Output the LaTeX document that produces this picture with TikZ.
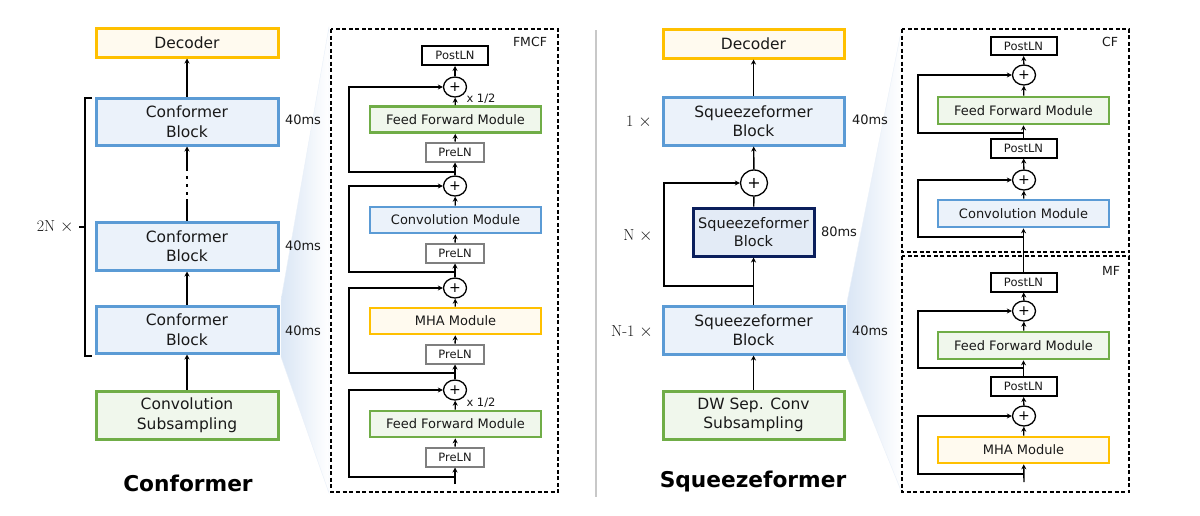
\documentclass[tikz,border=0pt]{standalone}
\usepackage{fontspec}
\setsansfont{DejaVu Sans}
\usetikzlibrary{arrows.meta,shapes.geometric,calc}
\definecolor{bblue}{HTML}{5B9BD5}
\definecolor{fblue}{HTML}{EBF2FA}
\definecolor{bgreen}{HTML}{70AD47}
\definecolor{fgreen}{HTML}{F0F7EC}
\definecolor{borange}{HTML}{FFC000}
\definecolor{forange}{HTML}{FFFAEF}
\definecolor{bnavy}{HTML}{0B1F5C}
\definecolor{fnavy}{HTML}{E3EBF6}
\definecolor{bgray}{HTML}{7F7F7F}
\definecolor{sepgray}{HTML}{C8C8C8}
\definecolor{shblue}{HTML}{DAE6F5}
\begin{document}
\begin{tikzpicture}[x=1pt,y=-1pt,font=\sffamily,
  big/.style={draw,line width=3pt,minimum width=182pt,minimum height=47pt,inner sep=0pt,align=center,font=\sffamily\fontsize{15.5}{19.5}\selectfont,text=black!90},
  bluebig/.style={big,draw=bblue,fill=fblue},
  greenbig/.style={big,draw=bgreen,fill=fgreen},
  orangebig/.style={big,draw=borange,fill=forange,minimum height=29pt},
  mod/.style={draw,line width=2.6pt,minimum width=171pt,minimum height=26pt,inner sep=0pt,font=\sffamily\fontsize{13}{15}\selectfont,text=black!90},
  greenmod/.style={mod,draw=bgreen,fill=fgreen},
  bluemod/.style={mod,draw=bblue,fill=fblue},
  orangemod/.style={mod,draw=borange,fill=forange},
  ln/.style={draw,line width=2pt,minimum height=19pt,inner sep=0pt,fill=white,font=\sffamily\fontsize{11.5}{13}\selectfont,text=black!90},
  preln/.style={ln,draw=bgray,minimum width=58pt},
  postln/.style={ln,draw=black,minimum width=66pt},
  addc/.style={ellipse,draw,line width=1.3pt,minimum width=23pt,minimum height=20pt,inner sep=0pt,fill=white,font=\sffamily\fontsize{14}{14}\selectfont},
  arr/.style={line width=1.4pt,-{Stealth[length=5pt,width=5pt]}},
  ln1/.style={line width=1.4pt},
  dbox/.style={draw,line width=1.3pt,dash pattern=on 4pt off 2.5pt},
  ms/.style={font=\sffamily\fontsize{13}{15}\selectfont,text=black!90},
  rep/.style={font=\rmfamily\fontsize{16}{18}\selectfont,text=black!90},
  boxlab/.style={font=\sffamily\fontsize{12.5}{14}\selectfont,text=black!90},
  half/.style={font=\sffamily\fontsize{11.5}{13}\selectfont,text=black!90},
  title/.style={font=\sffamily\bfseries\fontsize{21.7}{24}\selectfont}]
\useasboundingbox (0,0) rectangle (1200,515);
\fill[white] (0,0) rectangle (1200,515);

% zoom shadings
\shade[left color=shblue,right color=white,draw=shblue!60,line width=0.4pt]
  (281,300) -- (329,27) -- (329,493) -- (281,357) -- cycle;
\shade[left color=shblue,right color=white,draw=shblue!60,line width=0.4pt]
  (847,302) -- (902,27) -- (902,493) -- (847,357) -- cycle;

% ================= Conformer =================
\node[orangebig] (dec1) at (187,42.5) {Decoder};
\node[bluebig] (cb3) at (187,121.5) {Conformer\\Block};
\node[bluebig,minimum height=48pt] (cb2) at (187,246) {Conformer\\Block};
\node[bluebig] (cb1) at (187,329.5) {Conformer\\Block};
\node[greenbig,minimum height=48pt] (cs) at (187,415) {Convolution\\Subsampling};
\node[title] (t1) at (188,483) {Conformer};

\draw[arr] (cs) -- (cb1);
\draw[arr] (cb1) -- (cb2);
\draw[arr,dash pattern=on 22pt off 4pt on 3pt off 5pt on 3pt off 5pt on 3pt off 5pt on 60pt] (cb2) -- (cb3);
\draw[arr] (cb3) -- (dec1);

\node[ms] (m1) at (303,120) {40ms};
\node[ms] (m2) at (303,246) {40ms};
\node[ms] (m3) at (303,331) {40ms};

\coordinate (brt) at (92,98);
\coordinate (brb) at (92,356);
\coordinate (brm) at (85,227);
\draw[line width=1.3pt] (brt) -- (85,98) -- (brb -| brm) -- (brb);
\draw[line width=1.3pt] (brm) -- (79,227);
\node[rep,anchor=east] (r2n) at (77,227) {2N $\times$};

% FMCF box
\draw[dbox] (331,29) rectangle (558,492);
\node[boxlab] (lfmcf) at (530,42) {FMCF};

\node[postln] (fpost) at (455,55.5) {PostLN};
\node[addc] (fc1) at (455,87) {+};
\node[greenmod] (fffm1) at (455.5,119.5) {Feed Forward Module};
\node[preln] (fpre1) at (455,152) {PreLN};
\node[addc] (fc2) at (455,186) {+};
\node[bluemod] (fconv) at (455.5,220) {Convolution Module};
\node[preln] (fpre2) at (455,253) {PreLN};
\node[addc] (fc3) at (455,288) {+};
\node[orangemod] (fmha) at (455.5,321) {MHA Module};
\node[preln] (fpre3) at (455,354) {PreLN};
\node[addc] (fc4) at (455,390) {+};
\node[greenmod] (fffm2) at (455.5,424) {Feed Forward Module};
\node[preln] (fpre4) at (455,457) {PreLN};
\coordinate (fin) at (455,484);
\node[half,anchor=west] (h1) at (463,99) {x 1/2};
\node[half,anchor=west] (h2) at (463,403) {x 1/2};

\draw[arr] (fc1) -- (fpost);
\draw[arr] (fffm1) -- (fc1);
\draw[arr] (fpre1) -- (fffm1);
\draw[arr] (fc2) -- (fpre1);
\draw[arr] (fconv) -- (fc2);
\draw[arr] (fpre2) -- (fconv);
\draw[arr] (fc3) -- (fpre2);
\draw[arr] (fmha) -- (fc3);
\draw[arr] (fpre3) -- (fmha);
\draw[arr] (fc4) -- (fpre3);
\draw[arr] (fffm2) -- (fc4);
\draw[arr] (fpre4) -- (fffm2);
\draw[arr] (fin) -- (fpre4);

\coordinate (fb1) at (455,172);
\coordinate (fb2) at (455,272);
\coordinate (fb3) at (455,373);
\coordinate (fb4) at (455,477);
\draw[arr] (fb1) -- (349,172) |- (fc1);
\draw[arr] (fb2) -- (349,272) |- (fc2);
\draw[arr] (fb3) -- (349,373) |- (fc3);
\draw[arr] (fb4) -- (349,477) |- (fc4);

% separator
\draw[sepgray,line width=1.5pt] (596,30) -- (596,497);

% ================= Squeezeformer =================
\node[orangebig,minimum width=181pt] (dec2) at (753.5,43.5) {Decoder};
\node[bluebig,minimum width=181pt,minimum height=48pt] (sb3) at (753.5,121) {Squeezeformer\\Block};
\node[addc,minimum width=27pt,minimum height=26pt,font=\sffamily\fontsize{16}{16}\selectfont] (sc) at (754,183) {+};
\node[big,draw=bnavy,fill=fnavy,minimum width=121pt,minimum height=48pt,font=\sffamily\fontsize{14.5}{18.5}\selectfont] (sb2) at (753.5,232) {Squeezeformer\\Block};
\node[bluebig,minimum width=181pt,minimum height=48pt] (sb1) at (753.5,330) {Squeezeformer\\Block};
\node[greenbig,minimum width=181pt,minimum height=48pt] (dw) at (753.5,415) {DW Sep. Conv\\Subsampling};
\node[title] (t2) at (753,482) {Squeezeformer};

\draw[arr] (dw) -- (sb1);
\draw[arr] (sb1) -- (sb2);
\draw[ln1] (sb2) -- (sc);
\draw[arr] (sc) -- (sb3);
\draw[arr] (sb3) -- (dec2);
\coordinate (sbr) at (753.5,286);
\draw[arr] (sbr) -- (664,286) |- (sc);

\node[rep] (r1) at (639,122) {1 $\times$};
\node[rep] (r2) at (638,236) {N $\times$};
\node[rep] (r3) at (632,332) {N-1 $\times$};
\node[ms] (sm1) at (870,120) {40ms};
\node[ms] (sm2) at (839,232) {80ms};
\node[ms] (sm3) at (870,331) {40ms};

% CF box
\draw[dbox] (902,29) rectangle (1129,252);
\node[boxlab] (lcf) at (1110,42) {CF};
\node[postln,minimum height=18pt] (cpost1) at (1023.5,46) {PostLN};
\node[addc] (cc1) at (1024,75) {+};
\node[greenmod,minimum height=27pt] (cffm) at (1023.5,110.5) {Feed Forward Module};
\node[postln] (cpost2) at (1023.5,148) {PostLN};
\node[addc] (cc2) at (1024,180) {+};
\node[bluemod,minimum height=27pt] (cconv) at (1023.5,213.5) {Convolution Module};
\draw[arr] (cc1) -- (cpost1);
\draw[arr] (cffm) -- (cc1);
\draw[arr] (cpost2) -- (cffm);
\draw[arr] (cc2) -- (cpost2);
\draw[arr] (cconv) -- (cc2);
\coordinate (cb1p) at (1024,133);
\coordinate (cb2p) at (1024,237);
\draw[arr] (cb1p) -- (918,133) |- (cc1);
\draw[arr] (cb2p) -- (918,237) |- (cc2);

% MF box
\draw[dbox] (902,256) rectangle (1129,492);
\node[boxlab] (lmf) at (1111,271) {MF};
\node[postln] (mpost1) at (1023.5,282) {PostLN};
\node[addc] (mc1) at (1024,311) {+};
\node[greenmod,minimum height=27pt] (mffm) at (1023.5,345.5) {Feed Forward Module};
\node[postln] (mpost2) at (1023.5,386.5) {PostLN};
\node[addc] (mc2) at (1024,416) {+};
\node[orangemod] (mmha) at (1023.5,450) {MHA Module};
\coordinate (min) at (1024,482);
\draw[arr] (mpost1) -- (cconv);
\draw[arr] (mc1) -- (mpost1);
\draw[arr] (mffm) -- (mc1);
\draw[arr] (mpost2) -- (mffm);
\draw[arr] (mc2) -- (mpost2);
\draw[arr] (mmha) -- (mc2);
\draw[arr] (min) -- (mmha);
\coordinate (mb1p) at (1024,368);
\coordinate (mb2p) at (1024,474);
\draw[arr] (mb1p) -- (918,368) |- (mc1);
\draw[arr] (mb2p) -- (918,474) |- (mc2);
\end{tikzpicture}
\end{document}
